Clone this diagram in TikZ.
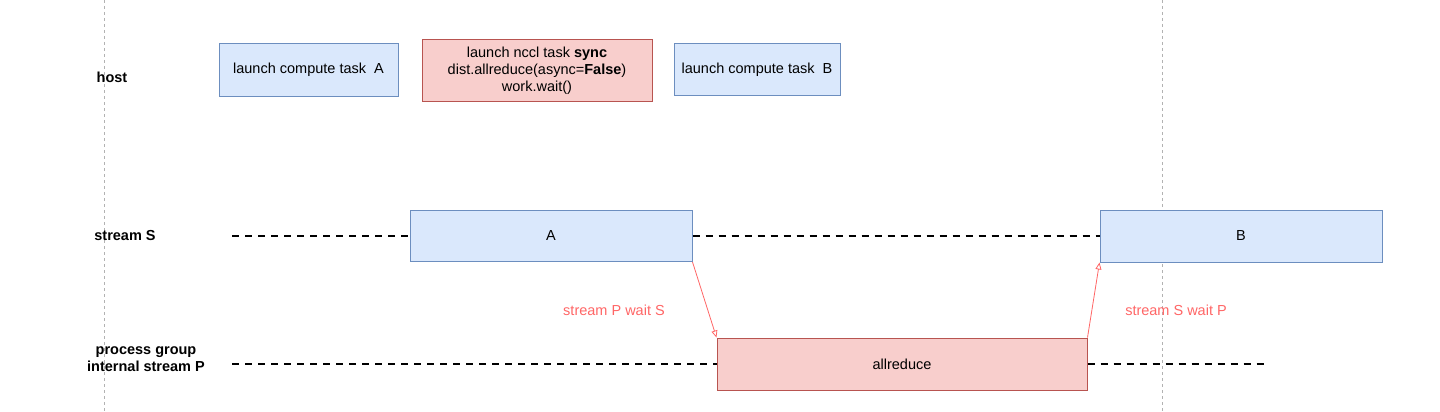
\documentclass[tikz,border=0pt]{standalone}
\usepackage{fontspec}
\setmainfont{Liberation Sans}
\usetikzlibrary{arrows.meta}
\definecolor{bfill}{HTML}{DAE8FC}\definecolor{bdraw}{HTML}{6C8EBF}
\definecolor{rfill}{HTML}{F8CECC}\definecolor{rdraw}{HTML}{B85450}
\definecolor{rtext}{HTML}{FF6666}
\begin{document}
\begin{tikzpicture}[x=1pt,y=-1pt,font=\fontsize{14.5}{17}\selectfont,
  bbox/.style={draw=bdraw,fill=bfill,line width=1pt},
  rbox/.style={draw=rdraw,fill=rfill,line width=1pt},
  lane/.style={line width=1.5pt,dash pattern=on 7pt off 6pt},
  guide/.style={draw=gray!60,dashed,line width=1pt},
  lbl/.style={font=\fontsize{14.5}{17}\selectfont\bfseries,align=center},
  wait/.style={draw=rtext,line width=0.8pt,-{Triangle[open,length=7pt,width=6pt]}},
  wtxt/.style={text=rtext}]
\useasboundingbox (0,0) rectangle (1440,412);
\coordinate (g1t) at (104,0); \coordinate (g1b) at (104,412);
\coordinate (g2t) at (1162,0); \coordinate (g2b) at (1162,412);
\draw[guide] (g1t) -- (g1b);
\draw[guide] (g2t) -- (g2b);
\node[lbl] (host) at (112,77) {host};
\node[lbl] (sS) at (125,236) {stream S};
\node[lbl] (sP) at (146,359) {process group\\internal stream P};
\draw[bbox] (219,44) rectangle (398,96);
\node (hA) at (308.5,70) {launch compute task\ \ A};
\draw[rbox] (422,40) rectangle (652,101);
\node[align=center] (hN) at (537,70.5) {launch nccl task \textbf{sync}\\dist.allreduce(async=\textbf{False})\\work.wait()};
\draw[bbox] (674,44) rectangle (840,95);
\node (hB) at (757,69.5) {launch compute task\ \ B};
\coordinate (s0) at (232,236); \coordinate (sE) at (1100,236);
\coordinate (p0) at (232,364); \coordinate (pE) at (1268,364);
\node[bbox,minimum width=282pt,minimum height=51pt] (A) at (551,236) {A};
\node[bbox,minimum width=282pt,minimum height=52pt] (B) at (1241,236) {B};
\node[rbox,minimum width=370pt,minimum height=52pt] (AR) at (902,364) {allreduce};
\draw[lane] (s0) -- (A.west);
\draw[lane] (A.east) -- (B.west);
\draw[lane] (p0) -- (AR.west);
\draw[lane] (AR.east) -- (pE);
\draw[wait] (A.south east) -- (AR.north west);
\draw[wait] (AR.north east) -- (B.south west);
\node[wtxt] (w1) at (614,310) {stream P wait S};
\node[wtxt] (w2) at (1176,310) {stream S wait P};
\end{tikzpicture}
\end{document}
